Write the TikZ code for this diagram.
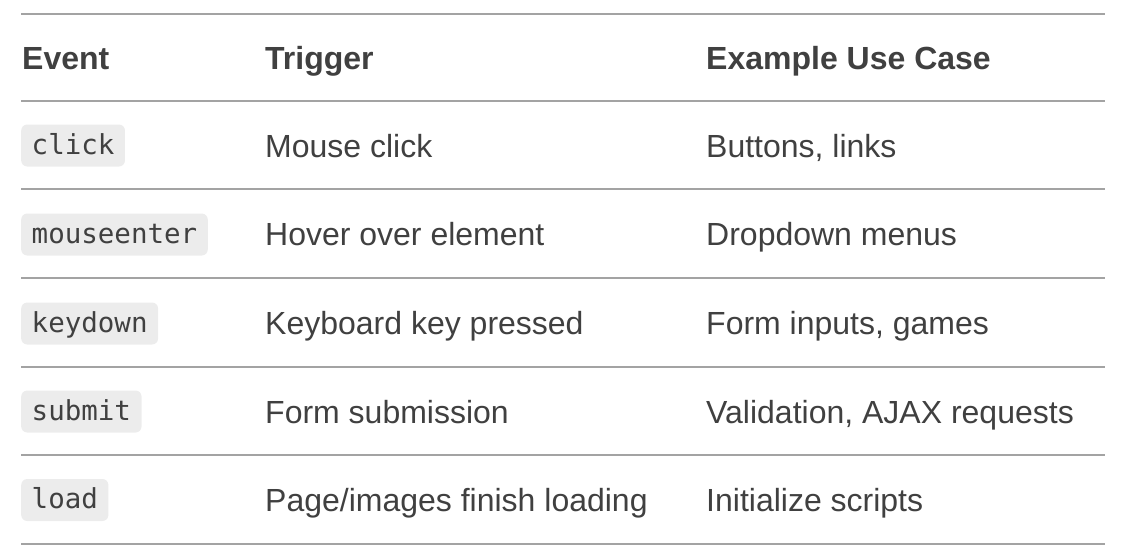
\documentclass[tikz,border=0pt]{standalone}
\usepackage{fontspec}
\setmainfont{Liberation Sans}
\setmonofont{DejaVu Sans Mono}
\usepackage{xcolor}
\usepackage{tikz}
\usetikzlibrary{positioning}
\definecolor{txt}{HTML}{404040}
\definecolor{rulegray}{HTML}{A3A3A3}
\definecolor{codebg}{HTML}{ECECEC}

\begin{document}
\begin{tikzpicture}[x=1pt, y=-1pt,
		every node/.style={inner sep=0pt, text=txt},
		cell/.style={anchor=base west, font=\fontsize{32}{38}\selectfont},
		head/.style={cell, font=\fontsize{32}{38}\selectfont\bfseries},
		codebox/.style={anchor=west, fill=codebg, rounded corners=6pt, inner xsep=10.5pt, inner ysep=0pt,
			minimum height=42pt, text height=21.5pt, text depth=4.5pt, font=\fontsize{27.5}{32}\ttfamily},
		rowline/.style={draw=rulegray, line width=1.5pt}]
		
		\useasboundingbox (0,0) rectangle (1138,558);
		
		% rules
		\draw[rowline] (21,14) -- (1105,14);
		\draw[rowline] (21,101) -- (1105,101);
		\draw[rowline] (21,189) -- (1105,189);
		\draw[rowline] (21,278) -- (1105,278);
		\draw[rowline] (21,367) -- (1105,367);
		\draw[rowline] (21,455) -- (1105,455);
		\draw[rowline] (21,544) -- (1105,544);
		
		% header
		\node[head] (hevent) at (22,69.5) {Event};
		\node[head] (htrigger) at (265,69.5) {Trigger};
		\node[head] (huse) at (706,69.5) {Example Use Case};
		
		\node[codebox] (click) at (21,145.5) {click};
		\node[cell] (tclick) at (265,157) {Mouse click};
		\node[cell] (uclick) at (706,157) {Buttons, links};
		
		\node[codebox] (enter) at (21,234.5) {mouseenter};
		\node[cell] (tenter) at (265,245.5) {Hover over element};
		\node[cell] (uenter) at (706,245.5) {Dropdown menus};
		
		\node[codebox] (key) at (21,323.5) {keydown};
		\node[cell] (tkey) at (265,334.5) {Keyboard key pressed};
		\node[cell] (ukey) at (706,334.5) {Form inputs, games};
		
		\node[codebox] (submit) at (21,411.5) {submit};
		\node[cell] (tsubmit) at (265,423) {Form submission};
		\node[cell] (usubmit) at (706,423) {Validation, AJAX requests};
		
		\node[codebox] (load) at (21,500) {load};
		\node[cell] (tload) at (265,511.5) {Page/images finish loading};
		\node[cell] (uload) at (706,511.5) {Initialize scripts};
		
		\end{tikzpicture}
\end{document}
